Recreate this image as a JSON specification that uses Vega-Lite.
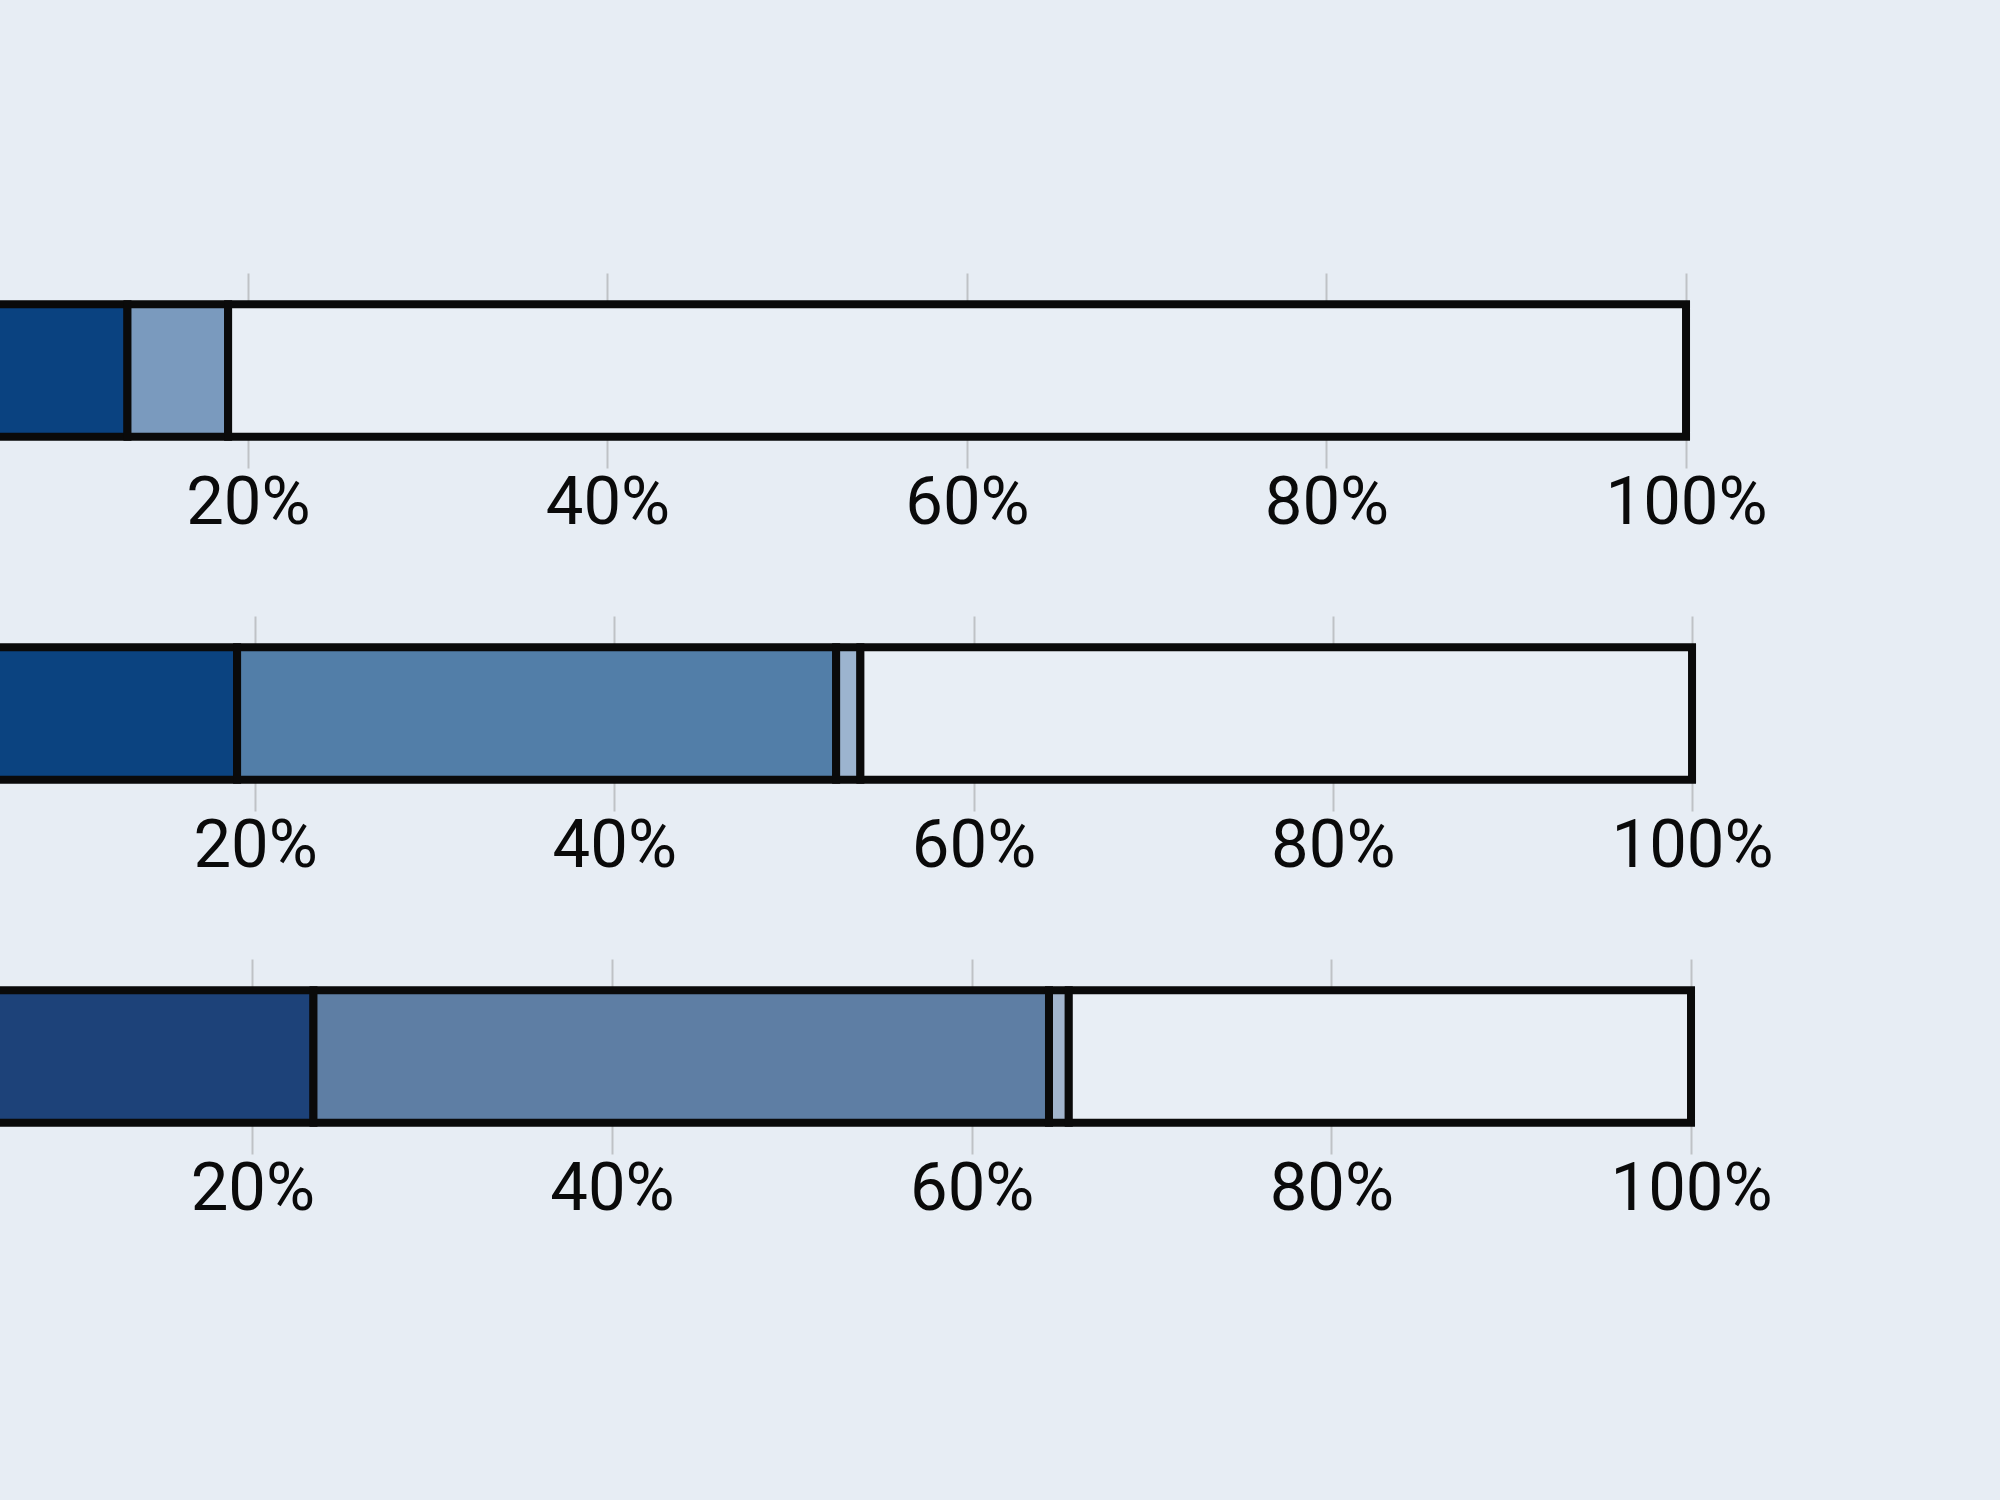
{
  "$schema": "https://vega.github.io/schema/vega-lite/v6.json",
  "background": "#e7edf4",
  "padding": {"left": 0, "top": 273, "right": 227, "bottom": 278},
  "config": {"view": {"stroke": null}, "font": "Roboto", "concat": {"spacing": 80}},
  "datasets": {
    "bars": [
      {"row": 1, "seg": 1, "segment": "A", "share": 0.133},
      {"row": 1, "seg": 2, "segment": "B", "share": 0.056},
      {"row": 1, "seg": 3, "segment": "D", "share": 0.811},
      {"row": 2, "seg": 1, "segment": "A", "share": 0.190},
      {"row": 2, "seg": 2, "segment": "B", "share": 0.3335},
      {"row": 2, "seg": 3, "segment": "C", "share": 0.0135},
      {"row": 2, "seg": 4, "segment": "D", "share": 0.463},
      {"row": 3, "seg": 1, "segment": "A", "share": 0.234},
      {"row": 3, "seg": 2, "segment": "B", "share": 0.409},
      {"row": 3, "seg": 3, "segment": "C", "share": 0.011},
      {"row": 3, "seg": 4, "segment": "D", "share": 0.346}
    ]
  },
  "resolve": {"scale": {"x": "independent", "color": "independent", "y": "independent"}},
  "vconcat": [
    {
      "width": 1704, "height": 195,
      "data": {"name": "bars"},
      "transform": [{"filter": "datum.row == 1"}],
      "mark": {"type": "bar", "stroke": "#0a0a0a", "strokeWidth": 8, "clip": true},
      "encoding": {
        "y": {"field": "row", "type": "nominal", "axis": null, "scale": {"paddingInner": 0.19, "paddingOuter": 0.19}},
        "x": {"field": "share", "type": "quantitative", "stack": "zero",
              "scale": {"domain": [0.0621, 1.01], "nice": false, "zero": false},
              "axis": {"values": [0.2, 0.4, 0.6, 0.8, 1], "format": ".0%", "orient": "bottom", "grid": true, "gridColor": "#bfc2c6", "gridWidth": 2, "ticks": false, "domain": false, "labelFontSize": 67, "labelColor": "#0a0a0a", "labelPadding": 2, "title": null, "labelFont": "Roboto", "labelFlush": false}},
        "order": {"field": "seg", "type": "ordinal"},
        "color": {"field": "segment", "type": "nominal", "legend": null,
                  "scale": {"domain": ["A", "B", "D"], "range": ["#0a4280", "#7a9abe", "#e8eef5"]}}
      }
    },
    {
      "width": 1710, "height": 195,
      "data": {"name": "bars"},
      "transform": [{"filter": "datum.row == 2"}],
      "mark": {"type": "bar", "stroke": "#0a0a0a", "strokeWidth": 8, "clip": true},
      "encoding": {
        "y": {"field": "row", "type": "nominal", "axis": null, "scale": {"paddingInner": 0.19, "paddingOuter": 0.19}},
        "x": {"field": "share", "type": "quantitative", "stack": "zero",
              "scale": {"domain": [0.058, 1.01], "nice": false, "zero": false},
              "axis": {"values": [0.2, 0.4, 0.6, 0.8, 1], "format": ".0%", "orient": "bottom", "grid": true, "gridColor": "#bfc2c6", "gridWidth": 2, "ticks": false, "domain": false, "labelFontSize": 67, "labelColor": "#0a0a0a", "labelPadding": 2, "title": null, "labelFont": "Roboto", "labelFlush": false}},
        "order": {"field": "seg", "type": "ordinal"},
        "color": {"field": "segment", "type": "nominal", "legend": null,
                  "scale": {"domain": ["A", "B", "C", "D"], "range": ["#0b4380", "#527ea8", "#9cb4cf", "#e8eef5"]}}
      }
    },
    {
      "width": 1709, "height": 195,
      "data": {"name": "bars"},
      "transform": [{"filter": "datum.row == 3"}],
      "mark": {"type": "bar", "stroke": "#0a0a0a", "strokeWidth": 8, "clip": true},
      "encoding": {
        "y": {"field": "row", "type": "nominal", "axis": null, "scale": {"paddingInner": 0.19, "paddingOuter": 0.19}},
        "x": {"field": "share", "type": "quantitative", "stack": "zero",
              "scale": {"domain": [0.0597, 1.01], "nice": false, "zero": false},
              "axis": {"values": [0.2, 0.4, 0.6, 0.8, 1], "format": ".0%", "orient": "bottom", "grid": true, "gridColor": "#bfc2c6", "gridWidth": 2, "ticks": false, "domain": false, "labelFontSize": 67, "labelColor": "#0a0a0a", "labelPadding": 2, "title": null, "labelFont": "Roboto", "labelFlush": false}},
        "order": {"field": "seg", "type": "ordinal"},
        "color": {"field": "segment", "type": "nominal", "legend": null,
                  "scale": {"domain": ["A", "B", "C", "D"], "range": ["#1d4279", "#5e7ea4", "#a2b5cd", "#e8eef5"]}}
      }
    }
  ]
}
